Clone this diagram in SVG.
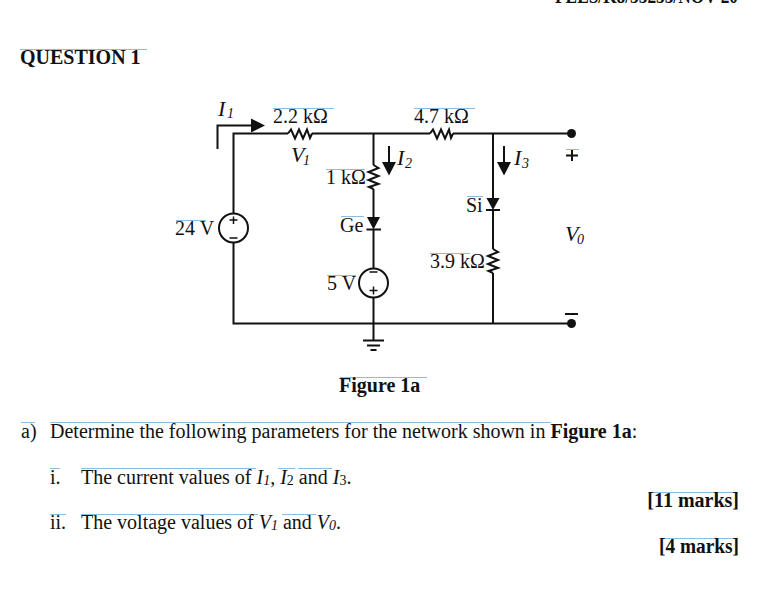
<svg xmlns="http://www.w3.org/2000/svg" width="769" height="590" viewBox="0 0 769 590">
<style>
text{font-family:"Liberation Serif","Times New Roman",serif;fill:#111}
.b{font-weight:bold}
.i{font-style:italic}
.c{font-size:20px}
.l{font-size:22px;font-style:italic}
.s{font-size:14px;font-style:italic}
.w{fill:none;stroke:#111;stroke-width:2}
.f{fill:#111;stroke:none}
.o{stroke:#8fbcdc;stroke-width:1;fill:none}
</style>
<rect width="769" height="590" fill="#fff"/>
<g id="overlines" class="o">
<path d="M20 49.500H147M273 108.500H334M414 108.500H475M326 169.500H365M176 220.500H206M341 216.500H364M327 275.500H356M467 196.500H483M430 253.500H470M566 149.500H579M340 377.500H427M21 422.500H35M50 422.500H551M50 468.500H60M81 468.500H256M278 468.500H295M298 468.500H332M50 514.500H66M81 514.500H258M282 514.500H316M648 492.500H738M659 538.500H738"/>
</g>
<g id="connectors">
<path class="w" d="M233.500 213.500V133.500H288M312 133.500H430M453 133.500H571M233.500 242.500V323.500H571M373.500 133.500V165M373.500 189V217M373.500 229V268.500M373.500 297.500V340M493 133.500V198M493 210V249M493 273V323.500"/>
<path class="w" d="M217.500 149V125.500H252"/>
<path class="w" d="M389 146V164M504 146V164"/>
<path class="f" d="M251 118.500L265 125.500L251 132.500ZM382 162H396L389 175.500ZM497 162H511L504 175.500Z"/>
</g>
<g id="r1"><path class="w" d="M288 133.500L291 129.500L295 138.500L299 129.500L303 138.500L307 129.500L310 138L312 133.500"/>
<text class="c" x="273" y="123">2.2 kΩ</text><text class="l" x="291" y="162">V</text><text class="s" x="303" y="165">1</text></g>
<g id="r2"><path class="w" d="M430 133.500L433 129.500L437 138.500L441 129.500L445 138.500L449 129.500L451 138L453 133.500"/>
<text class="c" x="414" y="123">4.7 kΩ</text></g>
<g id="r3"><path class="w" d="M373.500 165L378.500 168L368.500 172L378.500 176L368.500 180L378.500 184L369 187L373.500 189"/>
<text class="c" x="326" y="184">1 kΩ</text></g>
<g id="r4"><path class="w" d="M493 249L498 252L488 256L498 260L488 264L498 268L488.500 271L493 273"/>
<text class="c" x="430" y="268">3.9 kΩ</text></g>
<g id="ge"><path class="f" d="M367 217H380L373.500 229.500Z"/><path class="w" d="M366.500 229.500H381"/><text class="c" x="340" y="232">Ge</text></g>
<g id="si"><path class="f" d="M486.500 198H499.500L493 210Z"/><path class="w" d="M486 210H500"/><text class="c" x="466" y="212">Si</text></g>
<g id="v24"><circle class="w" cx="233.500" cy="228" r="14.500"/><path d="M233.500 216.500V224M229.500 220H237.500M229.500 238H237.500" fill="none" stroke="#111" stroke-width="1.500"/><text class="c" x="175" y="235">24 V</text></g>
<g id="v5"><circle class="w" cx="373.500" cy="283" r="14.500"/><path d="M369.500 272H377.500M369.500 290.500H377.500M373.500 286.500V294.500" fill="none" stroke="#111" stroke-width="1.500"/><text class="c" x="327" y="290">5 V</text></g>
<g id="gnd"><path class="w" d="M363 340.500H384M367 345.500H380M370.500 350H376.500"/></g>
<g id="vo">
<circle class="f" cx="571.500" cy="133.500" r="4.500"/><circle class="f" cx="571.500" cy="323.500" r="4.500"/>
<path class="w" d="M566 155.500H578M572 150V161"/><path class="w" d="M565 314H578"/>
<text class="l" x="565" y="241">V</text><text class="s" x="577" y="244">0</text>
</g>
<g id="i-labels">
<text class="l" x="218" y="116">I</text><text class="s" x="227" y="118">1</text>
<text class="l" x="397" y="165">I</text><text class="s" x="405" y="168">2</text>
<text class="l" x="514" y="165">I</text><text class="s" x="522" y="168">3</text>
</g>
<g id="text">
<text class="b" x="555" y="3" font-size="20" textLength="183" lengthAdjust="spacingAndGlyphs">PEES/K8/35255/NOV 20</text>
<text class="b" x="20" y="64" font-size="20">QUESTION 1</text>
<text class="b" x="339" y="392" font-size="20">Figure 1a</text>
<text x="21" y="438" font-size="20">a)</text>
<text x="50" y="438" font-size="20">Determine the following parameters for the network shown in <tspan class="b">Figure 1a</tspan>:</text>
<text x="50" y="484" font-size="20">i.</text>
<text x="81" y="484" font-size="20">The current values of <tspan class="i">I</tspan><tspan class="i" font-size="14" dy="1">1</tspan><tspan dy="-1">, </tspan><tspan class="i">I</tspan><tspan font-size="14" dy="1">2</tspan><tspan dy="-1"> and </tspan><tspan class="i">I</tspan><tspan font-size="14" dy="1">3</tspan><tspan dy="-1">.</tspan></text>
<text x="50" y="529" font-size="20">ii.</text>
<text x="81" y="529" font-size="20">The voltage values of <tspan class="i">V</tspan><tspan class="i" font-size="14" dy="1">1</tspan><tspan dy="-1"> and </tspan><tspan class="i">V</tspan><tspan class="i" font-size="14" dy="1">0</tspan><tspan dy="-1">.</tspan></text>
<text class="b" x="739" y="507" font-size="20" text-anchor="end">[11 marks]</text>
<text class="b" x="739" y="553" font-size="20" text-anchor="end" textLength="80" lengthAdjust="spacingAndGlyphs">[4 marks]</text>
</g>
</svg>
